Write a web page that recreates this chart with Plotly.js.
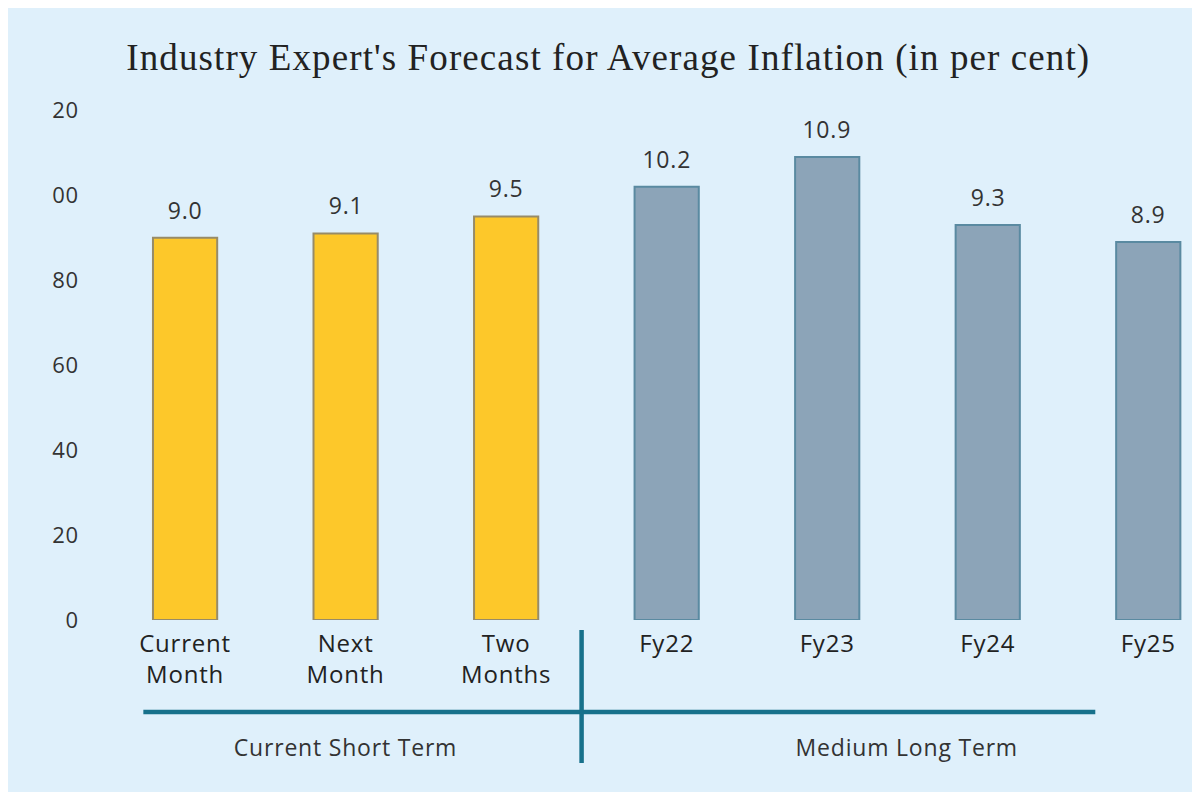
<!DOCTYPE html>
<html>
<head>
<meta charset="utf-8">
<script src="https://cdn.plot.ly/plotly-3.0.1.min.js"></script>
<style>
  html, body { margin: 0; padding: 0; background: #ffffff; }
  #chart { position: absolute; left: 8px; top: 8px; width: 1184px; height: 784px; }
  #chart .gtitle { letter-spacing: 1.1px; }
  #chart .xtick text, #chart .ytick text, #chart .annotation-text { letter-spacing: 0.8px; }
</style>
</head>
<body>
<div id="chart"></div>
<script>
// ---- data ----
const shortCategories = ["Current Month", "Next Month", "Two Months"];
const shortValues = [9.0, 9.1, 9.5];
const longCategories = ["Fy22", "Fy23", "Fy24", "Fy25"];
const longValues = [10.2, 10.9, 9.3, 8.9];
const categoryTickLabels = ["Current<br>Month", "Next<br>Month", "Two<br>Months", "Fy22", "Fy23", "Fy24", "Fy25"];
const yTickValues = [0, 2, 4, 6, 8, 10, 12];
const yTickLabels = ["0", "20", "40", "60", "80", "00", "20"];
const groupLabels = ["Current Short Term", "Medium Long Term"];
const titleText = "Industry Expert's Forecast for Average Inflation (in per cent)";

const allCategories = shortCategories.concat(longCategories);
const sansFamily = "'Open Sans', Lato, sans-serif";

const traces = [
  {
    type: "bar", x: shortCategories, y: shortValues, width: 0.4,
    marker: { color: "#fdc82a", line: { color: "#978b68", width: 2 } },
    hoverinfo: "x+y"
  },
  {
    type: "bar", x: longCategories, y: longValues, width: 0.4,
    marker: { color: "#8ca4b8", line: { color: "#5a8aa1", width: 2 } },
    hoverinfo: "x+y"
  }
];

const valueFont = { family: sansFamily, size: 23, color: "#333333" };
const annotations = [];
shortCategories.forEach((c, i) => annotations.push({
  x: c, y: shortValues[i], xref: "x", yref: "y", text: shortValues[i].toFixed(1),
  showarrow: false, yanchor: "bottom", yshift: 10, font: valueFont
}));
longCategories.forEach((c, i) => annotations.push({
  x: c, y: longValues[i], xref: "x", yref: "y", text: longValues[i].toFixed(1),
  showarrow: false, yanchor: "bottom", yshift: 10, font: valueFont
}));
// group labels
const groupFont = { family: sansFamily, size: 23, color: "#333333" };
annotations.push({
  x: 1, y: -0.245, xref: "x", yref: "paper", text: groupLabels[0],
  showarrow: false, yanchor: "middle", font: groupFont
});
annotations.push({
  x: 4.5, y: -0.245, xref: "x", yref: "paper", text: groupLabels[1],
  showarrow: false, yanchor: "middle", font: groupFont
});

const lineColor = "#17718b";
const shapes = [
  { type: "line", xref: "x", yref: "paper", x0: -0.26, x1: 5.67, y0: -0.177, y1: -0.177,
    line: { color: lineColor, width: 4.5 } },
  { type: "line", xref: "x", yref: "paper", x0: 2.47, x1: 2.47, y0: -0.019, y1: -0.275,
    line: { color: lineColor, width: 4.5 } }
];

const layout = {
  width: 1184, height: 784,
  paper_bgcolor: "#dff0fb", plot_bgcolor: "#dff0fb",
  margin: { l: 92, r: 2, t: 92, b: 172 },
  showlegend: false,
  barmode: "overlay",
  title: {
    text: titleText, x: 0.507, xanchor: "center", y: 0.9375, yanchor: "middle",
    font: { family: "'Liberation Serif', 'DejaVu Serif', serif", size: 37, color: "#222222" }
  },
  xaxis: {
    type: "category", categoryorder: "array", categoryarray: allCategories,
    range: [-0.53, 6.26],
    tickmode: "array", tickvals: allCategories, ticktext: categoryTickLabels,
    showgrid: false, zeroline: false, showline: false, ticks: "",
    ticklabelstandoff: 7,
    tickfont: { family: sansFamily, size: 24, color: "#222222" }
  },
  yaxis: {
    range: [0, 12.24],
    tickmode: "array", tickvals: yTickValues, ticktext: yTickLabels,
    showgrid: false, zeroline: false, showline: false, ticks: "",
    ticklabelstandoff: 20,
    tickfont: { family: sansFamily, size: 22, color: "#333333" }
  },
  annotations: annotations,
  shapes: shapes
};

Plotly.newPlot("chart", traces, layout, { displayModeBar: false, staticPlot: true });
</script>
</body>
</html>
